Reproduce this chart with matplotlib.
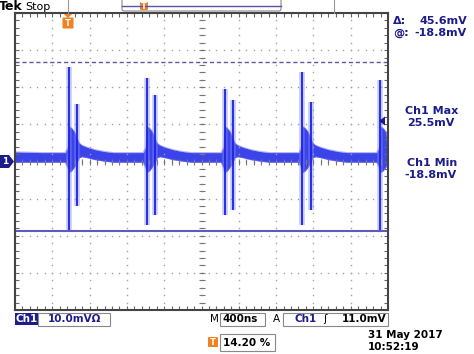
import numpy as np
import matplotlib.pyplot as plt
from matplotlib.patches import Rectangle, FancyBboxPatch, Polygon

# scope settings
t_div = 400.0        # ns / div
v_div = 10.0         # mV / div
t_left = -568.0      # ns at left screen edge (trigger at 14.20 %)
cursor_a = 26.8      # mV  (upper cursor)
cursor_b = -18.8     # mV  (lower cursor)
trig_level = 11.0    # mV

# main ringing spikes
main_t = [10, 845, 1680, 2515, 3350]
main_hi = [25.5, 22.5, 19.5, 24.0, 22.0]
main_lo = [-18.8, -17.0, -14.5, -17.0, -18.5]
# second, smaller spike of each burst
ring_t = [100, 935, 1770, 2605]
ring_hi = [15.5, 18.0, 16.5, 16.0]
ring_lo = [-12.0, -14.5, -13.0, -13.0]

# noise band around one burst (offset from main spike, ns)
prof_dt = [-300, -40, -8, 0, 30, 60, 85, 110, 140, 200, 280, 380, 480]
prof_hi = [2.4, 2.4, 4.0, 9.5, 9.0, 8.0, 6.5, 5.0, 4.4, 3.8, 3.2, 2.7, 2.4]
prof_lo = [-0.2, -0.2, -2.0, -3.0, -2.5, -1.5, -0.5, 1.0, 1.3, 1.0, 0.5, 0.1, -0.2]
edge_hi = 2.6   # band at screen edges
edge_lo = -0.2

navy = '#1c1c8a'
trace = '#1a22e6'
orange = '#f08020'

W, H = 474, 354
fig = plt.figure(figsize=(W / 100, H / 100), dpi=100)
gx0, gx1, gy0, gy1 = 15, 388, 13, 310
ax = fig.add_axes([gx0 / W, 1 - gy1 / H, (gx1 - gx0) / W, (gy1 - gy0) / H])
t_right = t_left + 10 * t_div
ax.set_xlim(t_left, t_right)
ax.set_ylim(-4 * v_div, 4 * v_div)

# graticule dots
xs_major = t_left + t_div * np.arange(1, 10)
ys_major = v_div * np.arange(-3, 4)
xs_minor = t_left + t_div / 5 * np.arange(0, 51)
ys_minor = v_div / 5 * np.arange(-20, 21)
for x in xs_major:
    ax.plot(np.full_like(ys_minor, x), ys_minor, ls='none', marker='s', ms=1.0,
            color='#a0a0a0', mew=0)
for y in ys_major:
    ax.plot(xs_minor, np.full_like(xs_minor, y), ls='none', marker='s', ms=1.0,
            color='#a0a0a0', mew=0)
# center cross ticks
tc = t_left + 5 * t_div
ax.plot(np.full_like(ys_minor, tc), ys_minor, ls='none', marker='_', ms=5,
        color='#777777', mew=0.8)
ax.plot(xs_minor, np.zeros_like(xs_minor), ls='none', marker='|', ms=5,
        color='#777777', mew=0.8)

ax.set_xticks(t_left + t_div * np.arange(0, 11))
ax.set_yticks(v_div * np.arange(-4, 5))
ax.set_xticks(xs_minor, minor=True)
ax.set_yticks(ys_minor, minor=True)
ax.tick_params(which='both', direction='in', length=3, width=0.8, color='#666666',
               top=True, right=True, labelleft=False, labelbottom=False)
for s in ax.spines.values():
    s.set_color('#444444')
    s.set_linewidth(1.5)

# noise band of the trace
bt = [t_left]
bh = [edge_hi]
bl = [edge_lo]
for t0 in main_t:
    for dt, h, l in zip(prof_dt, prof_hi, prof_lo):
        if t_left < t0 + dt < t_right:
            bt.append(t0 + dt)
            bh.append(h)
            bl.append(l)
bt.append(t_right)
bh.append(edge_hi)
bl.append(edge_lo)
ax.fill_between(bt, bl, bh, color=trace, alpha=0.85, lw=0)
ax.plot(bt, bh, color='#6a70f0', lw=0.8, alpha=0.5)
ax.plot(bt, bl, color='#6a70f0', lw=0.8, alpha=0.5)

# spikes
ax.vlines(main_t, main_lo, main_hi, color='#8088f4', lw=4.0, alpha=0.45)
ax.vlines(main_t, main_lo, main_hi, color=trace, lw=1.3)
ax.vlines(ring_t, ring_lo, ring_hi, color='#8088f4', lw=4.0, alpha=0.45)
ax.vlines(ring_t, ring_lo, ring_hi, color=trace, lw=1.3)

# cursors
ax.axhline(cursor_a, color='#5a5aa0', lw=1.0, ls=(0, (3, 2)))
ax.axhline(cursor_b, color='#5c5cc0', lw=1.5)

# overlay in pixel coordinates
ov = fig.add_axes([0, 0, 1, 1], zorder=5)
ov.set_xlim(0, W)
ov.set_ylim(H, 0)
ov.axis('off')
ov.patch.set_alpha(0)


def tbox(x, y, w, h, fc='white', ec='#888888'):
    ov.add_patch(Rectangle((x, y), w, h, fc=fc, ec=ec, lw=0.8))


def tmark(x, y, s=10):
    ov.add_patch(FancyBboxPatch((x - s / 2 + 1, y - s / 2 + 1), s - 2, s - 2,
                                boxstyle='round,pad=1', fc=orange, ec='none'))
    ov.text(x, y + 0.5, 'T', color='white', fontsize=6, fontweight='bold',
            ha='center', va='center')


# header
ov.text(-1, 7, 'Tek', fontsize=9, fontweight='bold', color='black', va='center')
ov.text(25, 7, 'Stop', fontsize=8, color='black', va='center')
ov.plot([68, 68], [0, 13], color='#999999', lw=0.8)
ov.plot([334, 334], [0, 13], color='#999999', lw=0.8)
ov.add_patch(FancyBboxPatch((122, -4), 159, 15, boxstyle='round,pad=0,rounding_size=2',
                            fc='white', ec='#888888', lw=0.8))
ov.plot([122, 281], [6, 6], color='#5555aa', lw=1.0)
tmark(144, 6, 8)
ov.add_patch(Polygon([[64, 14], [72, 14], [68, 18]], closed=True, fc=orange, ec='none'))
tmark(68, 23, 11)

# channel marker on the left
ov.add_patch(Polygon([[0, 155], [9, 155], [14, 161.5], [9, 168], [0, 168]],
                     closed=True, fc=navy, ec='none'))
ov.text(5, 161.5, '1', color='white', fontsize=6.5, fontweight='bold',
        ha='center', va='center')
# trigger level marker on the right
ov.add_patch(Polygon([[379, 121], [385, 116.5], [385, 125.5]], closed=True,
                     fc=navy, ec='none'))

# readouts on the right
rk = dict(fontsize=8, fontweight='bold', color=navy, va='center')
ov.text(393, 21, '\u0394:', **rk)
ov.text(467, 21, '45.6mV', ha='right', **rk)
ov.text(393, 33, '@:', **rk)
ov.text(467, 33, '-18.8mV', ha='right', **rk)
ov.text(432, 111, 'Ch1 Max', ha='center', **rk)
ov.text(431, 123, '25.5mV', ha='center', **rk)
ov.text(432, 163, 'Ch1 Min', ha='center', **rk)
ov.text(431, 175, '-18.8mV', ha='center', **rk)

# bottom status bar
ov.add_patch(Rectangle((15, 313), 23, 12, fc=navy, ec='none'))
ov.text(26.5, 319.5, 'Ch1', color='white', fontsize=7.5, fontweight='bold',
        ha='center', va='center')
tbox(38, 313, 72, 12.5)
ov.text(48, 319.5, '10.0mV\u03a9', color=navy, fontsize=7.5, fontweight='bold',
        va='center')
ov.text(210, 319.5, 'M', color='black', fontsize=7.5, va='center')
tbox(220, 313, 45, 12.5)
ov.text(223, 319.5, '400ns', color='black', fontsize=7.5, fontweight='bold',
        va='center')
ov.text(273, 319.5, 'A', color='black', fontsize=7.5, va='center')
tbox(283, 313, 105, 12.5)
ov.text(295, 319.5, 'Ch1', color=navy, fontsize=7.5, fontweight='bold', va='center')
ov.text(323, 319.5, '\u0283', color='black', fontsize=7.5, va='center')
ov.text(386, 319.5, '11.0mV', color='black', fontsize=7.5, fontweight='bold',
        ha='right', va='center')
tmark(213, 342, 10)
tbox(220, 334, 55, 17)
ov.text(223, 342.5, '14.20 %', color='black', fontsize=7.5, fontweight='bold',
        va='center')
ov.text(368, 335, '31 May 2017', color='black', fontsize=7.5, fontweight='bold',
        va='center')
ov.text(368, 347, '10:52:19', color='black', fontsize=7.5, fontweight='bold',
        va='center')

fig.savefig('out.png', dpi=100)
